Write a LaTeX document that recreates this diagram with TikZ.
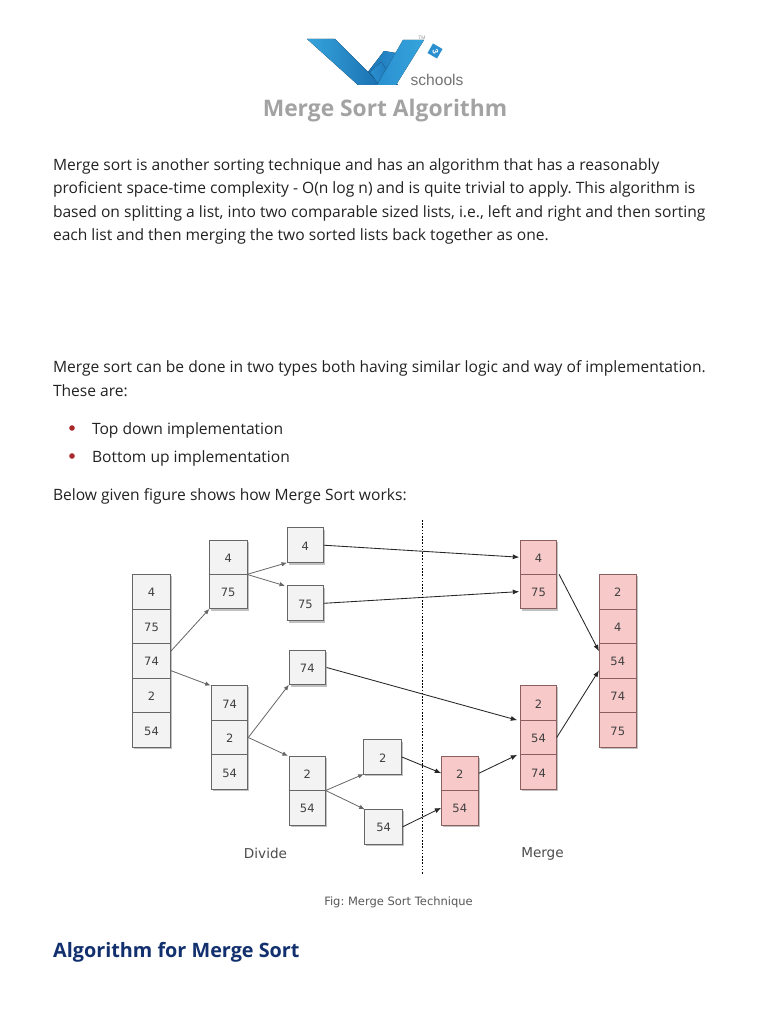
\documentclass[tikz,border=0pt]{standalone}
\usepackage{fontspec}
\usetikzlibrary{arrows.meta,shadows,calc}
\setmainfont{Open Sans}
\newfontfamily\figf{DejaVu Sans}
\newfontfamily\logof{Liberation Sans}
\definecolor{bodytext}{HTML}{222222}
\definecolor{titlegray}{HTML}{A3A3A3}
\definecolor{navy}{HTML}{12306E}
\definecolor{cellgray}{HTML}{F3F3F3}
\definecolor{cellpink}{HTML}{F8C9C9}
\definecolor{edgegray}{HTML}{666666}
\definecolor{edgepink}{HTML}{8A5F5F}
\definecolor{bulletred}{HTML}{A8282E}
\definecolor{logolight}{HTML}{35A4DC}
\definecolor{logomid}{HTML}{2A90D0}
\definecolor{logodark}{HTML}{1A6FB0}
\tikzset{
  x=1pt,y=-1pt,
  para/.style={anchor=west,inner sep=0,outer sep=0,text=bodytext,font=\fontsize{15.6}{23.4}\selectfont,align=left},
  cellbase/.style={draw,line width=.7pt,inner sep=0,outer sep=0,text height=10.2pt,text depth=0pt,font=\figf\fontsize{11.5}{13}\selectfont,text=black!75,
    drop shadow={shadow xshift=1.6pt,shadow yshift=-1.8pt,fill=black!40,opacity=.6}},
  graycell/.style={cellbase,fill=cellgray,draw=edgegray},
  pinkcell/.style={cellbase,fill=cellpink,draw=edgepink},
  divarrow/.style={-{Latex[length=5.5pt,width=4.5pt]},draw=edgegray,line width=.8pt},
  mrgarrow/.style={-{Latex[length=6.5pt,width=5pt]},draw=black!85,line width=.85pt},
  figlabel/.style={inner sep=0,font=\figf\fontsize{13.6}{15}\selectfont,text=black!70},
  bulletdot/.style={circle,fill=bulletred,inner sep=0,minimum size=5.6pt},
}
\newcommand{\mcell}[7]{\node[#6,minimum width=#4pt,minimum height=#5pt] (#1) at (#2,#3) {#7};}
\frenchspacing
\begin{document}
\begin{tikzpicture}
\useasboundingbox (0,0) rectangle (768,1024);
\fill[white] (0,0) rectangle (768,1024);

% logo
\fill[left color=logodark,right color=logomid] (358,85) -- (377,85) -- (402,54) -- (384,51) -- cycle;
\fill[left color=logolight,right color=logodark] (307,39) -- (335,39) -- (381,85) -- (358,85) -- cycle;
\fill[left color=logomid,right color=logodark] (370,72) -- (381,62) -- (398,85) -- (379,85) -- cycle;
\fill[left color=logomid,right color=logolight] (377,85) -- (396,85) -- (424,40) -- (403,40) -- cycle;
\fill[logomid,rotate around={-30:(435,51)}] (429.5,45.5) rectangle (440.5,56.5);
\node (logothree) at (435.5,51.5) [rotate=-70,inner sep=0,text=white,font=\logof\bfseries\fontsize{8}{9}\selectfont] {3};
\node (logotm) at (422,37.5) [inner sep=0,text=black!40,font=\logof\fontsize{5}{6}\selectfont] {TM};
\node (logoschools) at (437,80) [inner sep=0,text=black!55,font=\logof\fontsize{15.6}{17}\selectfont] {schools};

% page text
\node (title) at (385,111) [inner sep=0,text=titlegray,font=\bfseries\fontsize{22.8}{26}\selectfont] {Merge Sort Algorithm};
\node[para] (par1) at (53,201.5) {Merge sort is another sorting technique and has an algorithm that has a reasonably\\
proficient space-time complexity - O(n log n) and is quite trivial to apply. This algorithm is\\
based on splitting a list, into two comparable sized lists, i.e., left and right and then sorting\\
each list and then merging the two sorted lists back together as one.};
\node[para] (par2) at (53,378.5) {Merge sort can be done in two types both having similar logic and way of implementation.\\
These are:};
\node[bulletdot] (b1) at (72,428) {};
\node[bulletdot] (b2) at (72,456) {};
\node[para] (item1) at (92,430) {Top down implementation};
\node[para] (item2) at (92,458) {Bottom up implementation};
\node[para] (par3) at (53,496) {Below given figure shows how Merge Sort works:};

% divide side
\mcell{A1}{151.5}{591.6}{37.6}{34.6}{graycell}{4}
\mcell{A2}{151.5}{626.2}{37.6}{34.6}{graycell}{75}
\mcell{A3}{151.5}{660.8}{37.6}{34.6}{graycell}{74}
\mcell{A4}{151.5}{695.4}{37.6}{34.6}{graycell}{2}
\mcell{A5}{151.5}{730.0}{37.6}{34.6}{graycell}{54}
\mcell{Ba}{228.2}{557.2}{37.6}{34.4}{graycell}{4}
\mcell{Bb}{228.2}{591.6}{37.6}{34.4}{graycell}{75}
\mcell{Ca}{305.4}{545.2}{36.7}{35}{graycell}{4}
\mcell{Cb}{305.4}{603.3}{36.7}{35}{graycell}{75}
\mcell{Da}{229.7}{702.9}{36}{34.6}{graycell}{74}
\mcell{Db}{229.7}{737.5}{36}{34.6}{graycell}{2}
\mcell{Dc}{229.7}{772.1}{36}{34.6}{graycell}{54}
\mcell{Ea}{307.3}{667.5}{36.7}{34.4}{graycell}{74}
\mcell{Fa}{307.3}{773.2}{36.7}{34.6}{graycell}{2}
\mcell{Fb}{307.3}{807.8}{36.7}{34.6}{graycell}{54}
\mcell{Ga}{382.7}{756.9}{38}{34.4}{graycell}{2}
\mcell{Gb}{383.7}{826.8}{38}{35}{graycell}{54}

% merge side
\mcell{Ha}{459.8}{773.2}{37}{34.6}{pinkcell}{2}
\mcell{Hb}{459.8}{807.8}{37}{34.6}{pinkcell}{54}
\mcell{Ia}{538.5}{557.2}{36.4}{34.4}{pinkcell}{4}
\mcell{Ib}{538.5}{591.6}{36.4}{34.4}{pinkcell}{75}
\mcell{Ja}{538.5}{702.9}{36.4}{34.6}{pinkcell}{2}
\mcell{Jb}{538.5}{737.5}{36.4}{34.6}{pinkcell}{54}
\mcell{Jc}{538.5}{772.1}{36.4}{34.6}{pinkcell}{74}
\mcell{K1}{617.8}{591.6}{37.7}{34.6}{pinkcell}{2}
\mcell{K2}{617.8}{626.2}{37.7}{34.6}{pinkcell}{4}
\mcell{K3}{617.8}{660.8}{37.7}{34.6}{pinkcell}{54}
\mcell{K4}{617.8}{695.4}{37.7}{34.6}{pinkcell}{74}
\mcell{K5}{617.8}{730.0}{37.7}{34.6}{pinkcell}{75}

% connectors
\draw[divarrow] ([yshift=9pt]A3.east) -- (Bb.south west);
\draw[divarrow] ([yshift=-9.6pt]A3.east) -- ([xshift=-1pt]Da.north west);
\draw[divarrow] (Ba.south east) -- (Ca.south west);
\draw[divarrow] (Ba.south east) -- ([xshift=-2pt]Cb.north west);
\draw[divarrow] ([xshift=.6pt]Db.east) -- (Ea.south west);
\draw[divarrow] ([xshift=.6pt]Db.east) -- ([xshift=-1pt]Fa.north west);
\draw[divarrow] (Fa.south east) -- (Ga.south west);
\draw[divarrow] (Fa.south east) -- (Gb.north west);
\draw[mrgarrow] (Ca.east) -- ([xshift=-1pt]Ia.west);
\draw[mrgarrow] (Cb.east) -- ([xshift=-1pt]Ib.west);
\draw[mrgarrow] ([xshift=1pt]Ea.east) -- ([xshift=-3pt]Ja.south west);
\draw[mrgarrow] (Ga.east) -- (Ha.west);
\draw[mrgarrow] (Gb.east) -- (Hb.west);
\draw[mrgarrow] ([xshift=.7pt]Ha.east) -- ([xshift=-3pt]Jc.north west);
\draw[mrgarrow] ([xshift=2.4pt]Ia.south east) -- ([yshift=9.6pt]K3.west);
\draw[mrgarrow] (Jb.east) -- ([yshift=-9.6pt]K3.west);

\coordinate (divtop) at (422.3,520);
\coordinate (divbot) at (422.3,875);
\draw[black,line width=.9pt,dash pattern=on 1.6pt off 1.6pt] (divtop) -- (divbot);

\node[figlabel] (divide) at (265.5,853.5) {Divide};
\node[figlabel] (merge) at (542.5,854) {Merge};
\node[inner sep=0,font=\figf\fontsize{11.5}{13}\selectfont,text=black!65] (caption) at (398.5,902) {Fig: Merge Sort Technique};
\node[anchor=west,inner sep=0,text=navy,font=\bfseries\fontsize{19.8}{23}\selectfont] (heading) at (53,952) {Algorithm for Merge Sort};
\end{tikzpicture}
\end{document}
